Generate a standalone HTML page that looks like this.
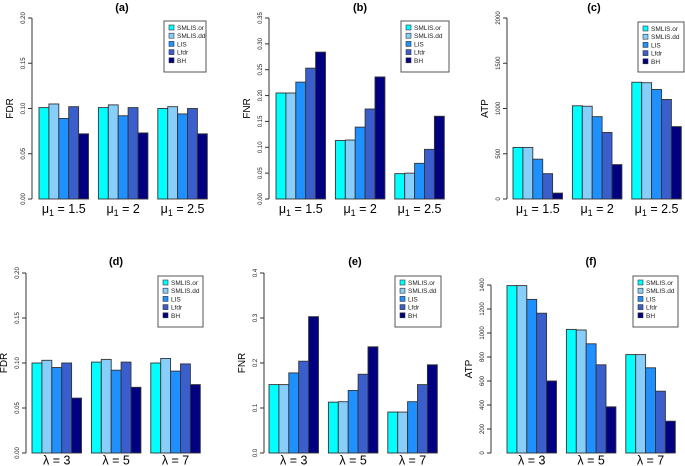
<!DOCTYPE html>
<html><head><meta charset="utf-8">
<style>
html,body{margin:0;padding:0;background:#fff;}
svg{display:block;font-family:"Liberation Sans",sans-serif;}
</style></head>
<body>
<svg id="c" width="685" height="466" viewBox="0 0 685 466" xmlns="http://www.w3.org/2000/svg"></svg>
<script>
const seriesNames = ["SMLIS.or","SMLIS.dd","LIS","Lfdr","BH"];
const seriesColors = ["#00FFFF","#87CEFA","#1E90FF","#3A5FCD","#000080"];
const catsMu = ["1.5","2","2.5"];
const catsLam = ["3","5","7"];
const valsA = [[0.101,0.105,0.089,0.102,0.072],[0.101,0.104,0.092,0.101,0.073],[0.100,0.102,0.094,0.100,0.072]];
const valsB = [[0.205,0.205,0.226,0.253,0.284],[0.113,0.114,0.139,0.174,0.236],[0.049,0.050,0.069,0.096,0.160]];
const valsC = [[570,570,440,280,65],[1030,1025,910,735,380],[1290,1285,1210,1100,800]];
const valsD = [[0.100,0.103,0.095,0.100,0.061],[0.101,0.104,0.092,0.101,0.073],[0.100,0.105,0.091,0.099,0.076]];
const valsE = [[0.152,0.152,0.178,0.204,0.303],[0.113,0.114,0.139,0.175,0.236],[0.091,0.091,0.114,0.152,0.196]];
const valsF = [[1395,1395,1280,1165,600],[1030,1025,910,735,385],[820,820,710,515,265]];
const ticksA = ["0.00","0.05","0.10","0.15","0.20"];
const ticksB = ["0.00","0.05","0.10","0.15","0.20","0.25","0.30","0.35"];
const ticksC = ["0","500","1000","1500","2000"];
const ticksE = ["0.0","0.1","0.2","0.3","0.4"];
const ticksF = ["0","200","400","600","800","1000","1200","1400"];

const svg = document.getElementById('c');
const NS = "http://www.w3.org/2000/svg";
function mk(tag, attrs, parent){
  const e = document.createElementNS(NS, tag);
  for (const k in attrs) e.setAttribute(k, attrs[k]);
  (parent||svg).appendChild(e);
  return e;
}
const panels = [
 {id:"a",title:"(a)",tx:122,ty:11,ylab:"FDR",ax:32,yTop:18,y0:199,max:0.20,ticks:ticksA,vals:valsA,cats:catsMu,sym:"mu",x0:39,bw:9.9,leg:[164,21,42,51],lo:14},
 {id:"b",title:"(b)",tx:360,ty:11,ylab:"FNR",ax:269,yTop:18,y0:199,max:0.35,ticks:ticksB,vals:valsB,cats:catsMu,sym:"mu",x0:276,bw:9.9,leg:[401,21,48,51],lo:14},
 {id:"c",title:"(c)",tx:594,ty:11,ylab:"ATP",ax:507,yTop:18,y0:199,max:2000,ticks:ticksC,vals:valsC,cats:catsMu,sym:"mu",x0:513,bw:9.9,leg:[638,22,46,50],lo:14},
 {id:"d",title:"(d)",tx:116,ty:265,ylab:"FDR",ax:26,yTop:273,y0:453,max:0.20,ticks:ticksA,vals:valsD,cats:catsLam,sym:"lam",x0:32,bw:9.9,leg:[158,276,45,51],lo:11.5},
 {id:"e",title:"(e)",tx:355,ty:265,ylab:"FNR",ax:264,yTop:273,y0:453,max:0.4,ticks:ticksE,vals:valsE,cats:catsLam,sym:"lam",x0:269,bw:9.9,leg:[395,276,46,51],lo:11.5},
 {id:"f",title:"(f)",tx:591,ty:265,ylab:"ATP",ax:491,yTop:285,y0:453,max:1400,ticks:ticksF,vals:valsF,cats:catsLam,sym:"lam",x0:507,bw:9.9,leg:[633,276,45,51],lo:11.5}
];
panels.forEach(p=>{
  const g = mk('g',{});
  
  
  const ys = v => p.y0 - v/p.max*(p.y0-p.yTop);
  const t = mk('text',{x:p.tx,y:p.ty,'text-anchor':'middle','font-size':11,'font-weight':'bold'},g);
  t.textContent = p.title;
  
  
  const ax = mk('line',{x1:p.ax,x2:p.ax,y1:p.yTop,y2:p.y0,stroke:'#333','stroke-width':1},g);
  
  
  const n = p.ticks.length;
  p.ticks.forEach((lab,i)=>{
    const v = p.max*i/(n-1);
    const y = ys(v);
    mk('line',{x1:p.ax-4,x2:p.ax,y1:y,y2:y,stroke:'#333','stroke-width':1},g);
    const tt = mk('text',{x:0,y:0,transform:`translate(${p.ax-7},${y}) rotate(-90)`,'text-anchor':'middle','font-size':6,fill:'#222'},g);
    tt.textContent = lab;
    
    
  });
  const yl = mk('text',{x:0,y:0,transform:`translate(${p.ax-19},${(p.yTop+p.y0)/2}) rotate(-90)`,'text-anchor':'middle','font-size':10},g);
  yl.textContent = p.ylab;
  
  
  p.vals.forEach((grp,gi)=>{
    const gx = p.x0 + gi*6*p.bw;
    grp.forEach((v,si)=>{
      const x = gx + si*p.bw;
      const y = ys(v);
      const r = mk('rect',{x:x,y:y,width:p.bw,height:p.y0-y,fill:seriesColors[si],stroke:'#333','stroke-width':0.9},g);
      
      
    });
    const lt = mk('text',{x:gx+2.5*p.bw,y:p.y0+p.lo,'text-anchor':'middle','font-size':12.5},g);
    if (p.sym==="mu") lt.innerHTML = 'μ<tspan font-size="9" dy="3">1</tspan><tspan dy="-3"> = '+p.cats[gi]+'</tspan>';
    else lt.textContent = 'λ = '+p.cats[gi];
    
    
  });
  const [lx,ly,lw,lh] = p.leg;
  const lg = mk('g',{},g);
  
  
  mk('rect',{x:lx,y:ly,width:lw,height:lh,fill:'#fff',stroke:'#555','stroke-width':1},lg);
  seriesNames.forEach((nm,si)=>{
    const yy = ly+7+si*8.2;
    mk('rect',{x:lx+5,y:yy-3,width:5,height:5,fill:seriesColors[si],stroke:'#333','stroke-width':0.6},lg);
    const et = mk('text',{x:lx+13,y:yy+2,'font-size':6.5,fill:'#222'},lg);
    et.textContent = nm;
    
    
  });
});
</script>
</body></html>
